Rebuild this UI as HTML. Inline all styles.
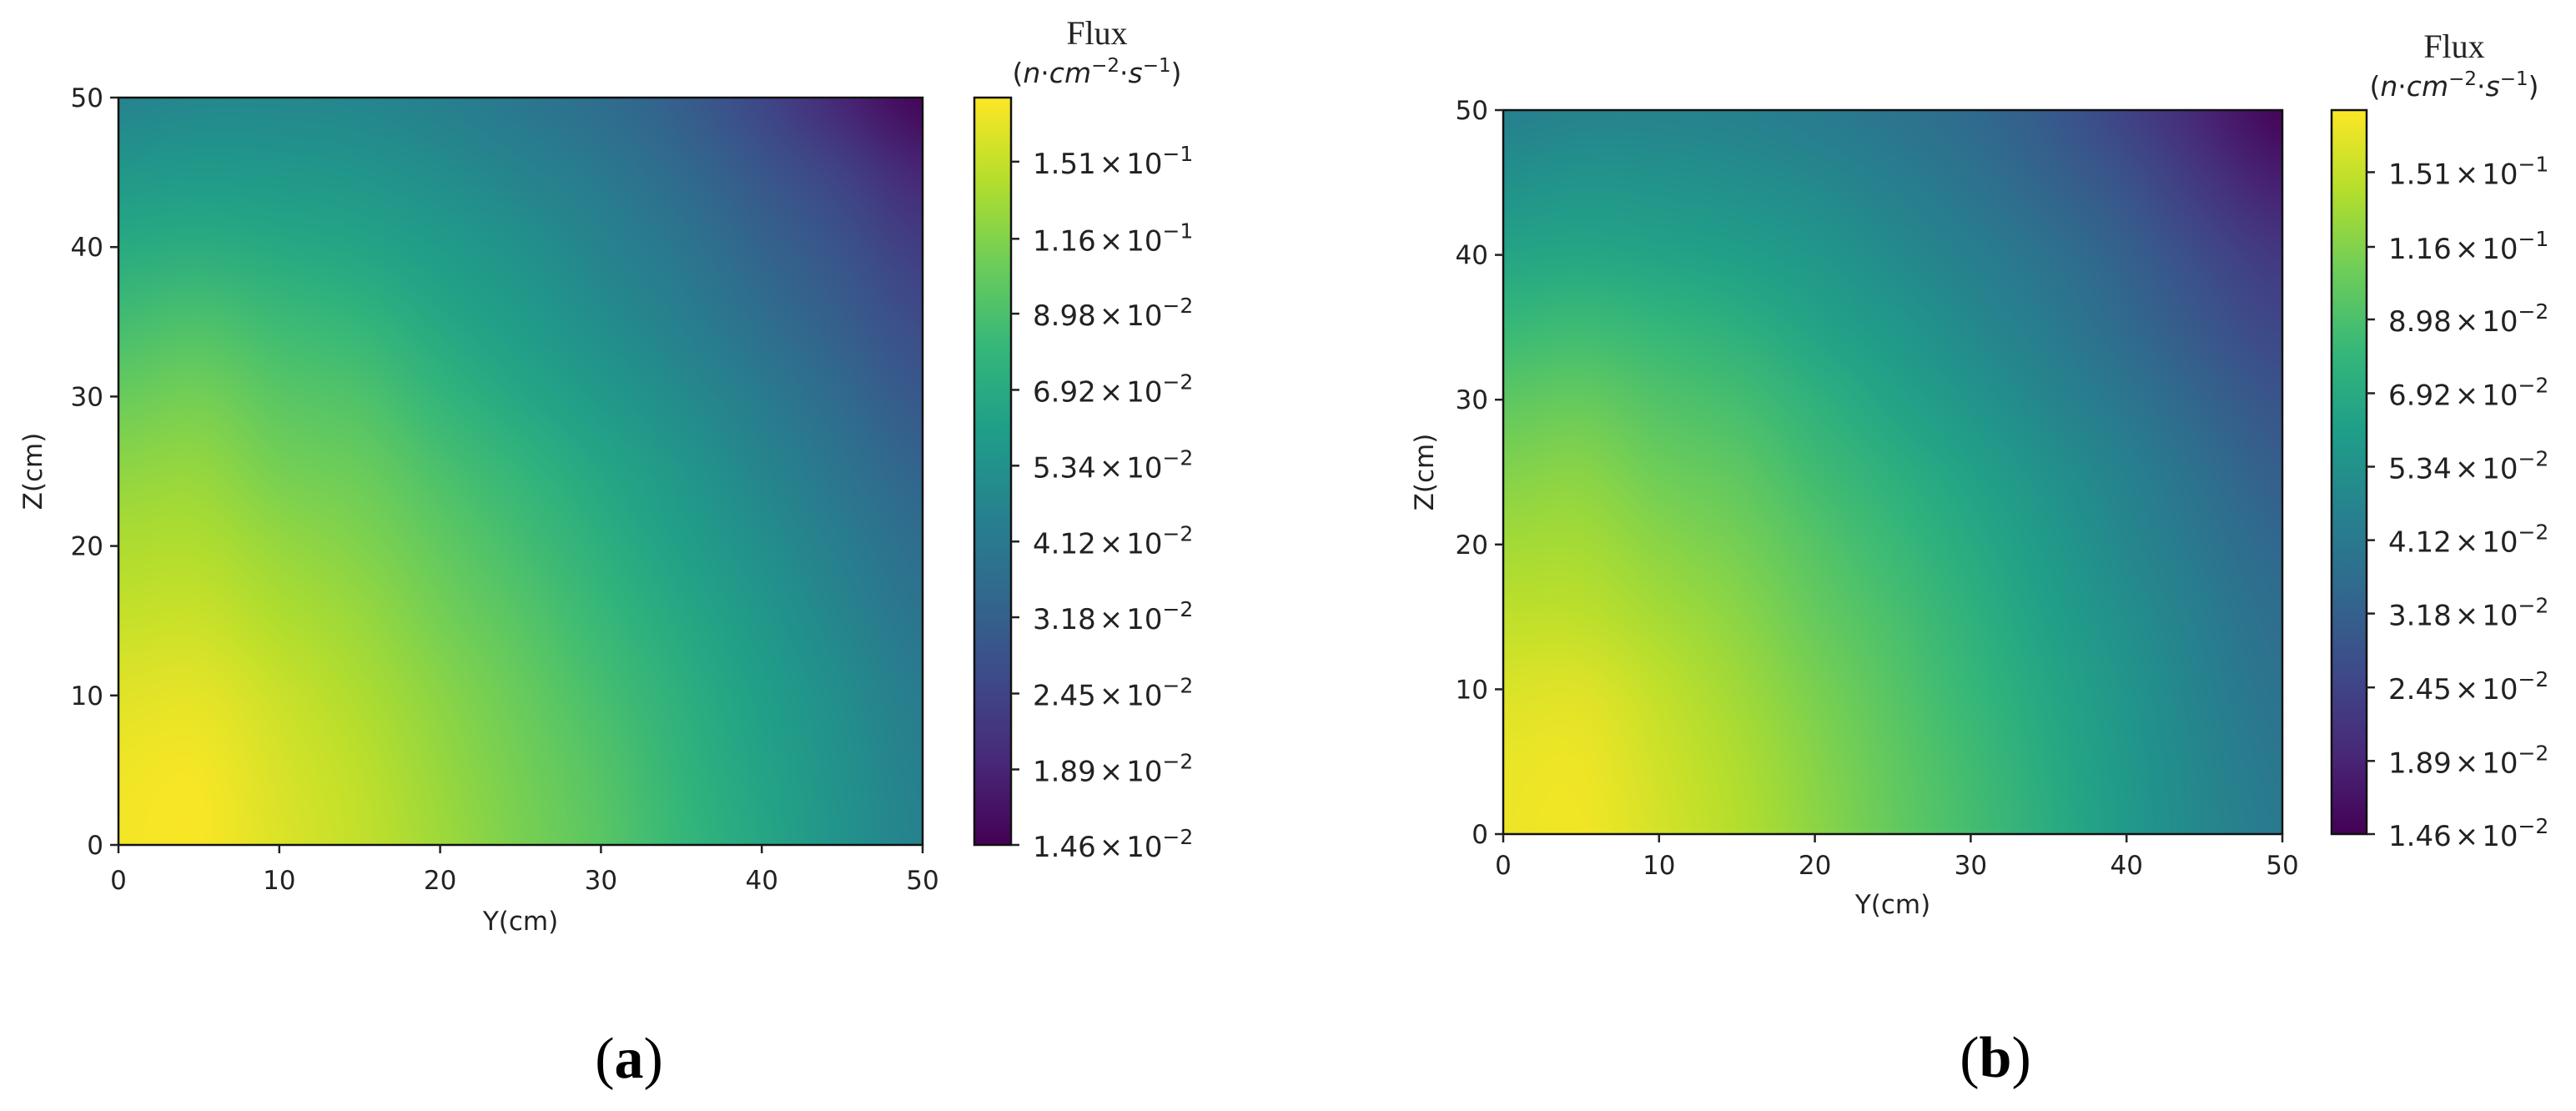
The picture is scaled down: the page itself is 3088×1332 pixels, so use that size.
<!DOCTYPE html>
<html><head><meta charset="utf-8">
<style>
html,body{margin:0;padding:0;background:#fff;}
#root{position:relative;width:3088px;height:1332px;overflow:hidden;background:#fff;}
canvas{position:absolute;}
svg{position:absolute;left:0;top:0;}
</style></head>
<body>
<div id="root">
<canvas id="heatA"></canvas>
<canvas id="heatB"></canvas>
<svg id="svg" width="3088" height="1332"></svg>
</div>
<script>
// axis categories (cm)
const yCoords = [0,5,10,15,20,25,30,35,40,45,50];
const zCoords = [0,5,10,15,20,25,30,35,40,45,50];
const axisTicks = [0,10,20,30,40,50];
// colorbar tick values and labels
const cbTickMant = ["1.51","1.16","8.98","6.92","5.34","4.12","3.18","2.45","1.89","1.46"];
const cbTickExp = ["−1","−1","−2","−2","−2","−2","−2","−2","−2","−2"];
const cbTickValues = [0.151,0.116,0.0898,0.0692,0.0534,0.0412,0.0318,0.0245,0.0189,0.0146];
const fluxMin = 0.0146;
const fluxMax = 0.188;
// panel (a) flux rows, Z = 0 .. 50 (bottom to top), columns Y = 0 .. 50
const fluxA = [
 [0.180,0.185,0.165,0.150,0.130,0.112,0.097,0.080,0.066,0.054,0.045],
 [0.178,0.183,0.162,0.147,0.126,0.109,0.094,0.077,0.064,0.053,0.044],
 [0.168,0.172,0.154,0.138,0.120,0.104,0.088,0.073,0.061,0.051,0.042],
 [0.152,0.155,0.140,0.128,0.110,0.096,0.081,0.068,0.057,0.047,0.039],
 [0.138,0.140,0.126,0.116,0.101,0.087,0.073,0.062,0.052,0.043,0.036],
 [0.122,0.126,0.110,0.105,0.090,0.078,0.066,0.056,0.047,0.039,0.033],
 [0.104,0.110,0.097,0.092,0.078,0.067,0.058,0.050,0.042,0.035,0.029],
 [0.086,0.091,0.083,0.078,0.067,0.059,0.051,0.044,0.037,0.031,0.026],
 [0.069,0.071,0.068,0.065,0.059,0.053,0.046,0.040,0.033,0.028,0.023],
 [0.056,0.058,0.057,0.055,0.051,0.046,0.041,0.035,0.029,0.024,0.019],
 [0.046,0.048,0.048,0.047,0.044,0.040,0.036,0.031,0.025,0.019,0.0148]
];
// panel (b) flux rows, Z = 0 .. 50, columns Y = 0 .. 50
const fluxB = [
 [0.176,0.180,0.160,0.142,0.121,0.102,0.087,0.071,0.058,0.048,0.041],
 [0.174,0.178,0.157,0.139,0.118,0.100,0.085,0.069,0.057,0.047,0.040],
 [0.164,0.168,0.149,0.131,0.112,0.095,0.080,0.066,0.055,0.045,0.038],
 [0.148,0.148,0.134,0.121,0.103,0.089,0.075,0.062,0.052,0.043,0.036],
 [0.132,0.134,0.120,0.110,0.095,0.082,0.069,0.058,0.048,0.040,0.034],
 [0.116,0.120,0.106,0.099,0.085,0.073,0.063,0.053,0.045,0.037,0.031],
 [0.098,0.103,0.093,0.087,0.075,0.064,0.055,0.047,0.040,0.033,0.028],
 [0.081,0.084,0.079,0.073,0.064,0.057,0.049,0.042,0.035,0.029,0.025],
 [0.065,0.066,0.064,0.061,0.056,0.050,0.044,0.038,0.032,0.026,0.022],
 [0.053,0.055,0.054,0.052,0.049,0.044,0.039,0.033,0.028,0.022,0.018],
 [0.044,0.046,0.046,0.045,0.042,0.039,0.035,0.030,0.024,0.019,0.0148]
];

const VIR = [[68,1,84],[72,40,120],[62,74,137],[49,104,142],[38,130,142],[31,158,137],[53,183,121],[109,205,89],[180,222,44],[253,231,37]];
function viridis(t){
  t=Math.max(0,Math.min(1,t));
  const p=t*(VIR.length-1), i=Math.min(VIR.length-2,Math.floor(p)), f=p-i;
  return VIR[i].map((c,k)=>Math.round(c+(VIR[i+1][k]-c)*f));
}
function normLog(v){return Math.log(v/fluxMin)/Math.log(fluxMax/fluxMin);}

const NS="http://www.w3.org/2000/svg";
const svg=document.getElementById('svg');
function el(tag,attrs,parent,text){
  const e=document.createElementNS(NS,tag);
  for(const k in attrs) e.setAttribute(k,attrs[k]);
  if(text!==undefined) e.textContent=text;
  (parent||svg).appendChild(e);
  return e;
}

function panel(cfg,data,canvasId,tag){
  const {L,R,T,B,cbL,cbR,cbT}=cfg;
  const g=el('g',{});
  
  
  const xS=v=>L+(v-yCoords[0])/(yCoords[yCoords.length-1]-yCoords[0])*(R-L);
  const yS=v=>B-(v-zCoords[0])/(zCoords[zCoords.length-1]-zCoords[0])*(B-T);
  const nx=yCoords.length, nz=zCoords.length;
  const small=document.createElement('canvas'); small.width=nx; small.height=nz;
  const sc=small.getContext('2d'); const img=sc.createImageData(nx,nz);
  for(let j=0;j<nz;j++)for(let i=0;i<nx;i++){
    const c=viridis(normLog(data[j][i])); const row=nz-1-j; const o=(row*nx+i)*4;
    img.data[o]=c[0];img.data[o+1]=c[1];img.data[o+2]=c[2];img.data[o+3]=255;
  }
  sc.putImageData(img,0,0);
  const cv=document.getElementById(canvasId);
  const x0=xS(yCoords[0]), x1=xS(yCoords[nx-1]), y0=yS(zCoords[nz-1]), y1=yS(zCoords[0]);
  cv.width=Math.round(x1-x0); cv.height=Math.round(y1-y0);
  cv.style.left=x0+'px'; cv.style.top=y0+'px';
  const ctx=cv.getContext('2d'); ctx.imageSmoothingEnabled=true; ctx.imageSmoothingQuality='high';
  const cw=cv.width/(nx-1), ch=cv.height/(nz-1);
  ctx.drawImage(small,0,0,nx,nz,-cw/2,-ch/2,cv.width+cw,cv.height+ch);
  const fr=el('rect',{x:L,y:T,width:R-L,height:B-T,fill:'none',stroke:'#111','stroke-width':2.5},g);
  
  
  axisTicks.forEach(v=>{
    const x=xS(v);
    el('line',{x1:x,x2:x,y1:B,y2:B+10,stroke:'#222','stroke-width':2.5},g);
    const t=el('text',{x:x,y:B+cfg.xtlOff,'font-size':31,'text-anchor':'middle','font-family':'DejaVu Sans, Liberation Sans, sans-serif',fill:'#222'},g,String(v));
    
    
    const y=yS(v);
    el('line',{x1:L-10,x2:L,y1:y,y2:y,stroke:'#222','stroke-width':2.5},g);
    const t2=el('text',{x:L-18,y:y+11,'font-size':31,'text-anchor':'end','font-family':'DejaVu Sans, Liberation Sans, sans-serif',fill:'#222'},g,String(v));
    
    
  });
  const xt=el('text',{x:(L+R)/2,y:cfg.xlabY,'font-size':31,'text-anchor':'middle','font-family':'DejaVu Sans, Liberation Sans, sans-serif',fill:'#222'},g,'Y(cm)');
  
  
  const yt=el('text',{x:0,y:0,'font-size':31,'text-anchor':'middle','font-family':'DejaVu Sans, Liberation Sans, sans-serif',fill:'#222',transform:`translate(${cfg.ylabX},${(T+B)/2}) rotate(-90)`},g,'Z(cm)');
  
  
  const gid='grad'+tag;
  const defs=el('defs',{},g); const lg=el('linearGradient',{id:gid,x1:0,y1:1,x2:0,y2:0},defs);
  for(let k=0;k<VIR.length;k++) el('stop',{offset:k/(VIR.length-1),'stop-color':`rgb(${VIR[k].join(',')})`},lg);
  const cbB=B;
  const cb=el('rect',{x:cbL,y:cbT,width:cbR-cbL,height:cbB-cbT,fill:`url(#${gid})`,stroke:'#111','stroke-width':2.5},g);
  
  
  const cS=v=>cbB-normLog(v)*(cbB-cbT);
  cbTickValues.forEach((v,k)=>{
    const y=cS(v);
    el('line',{x1:cbR,x2:cbR+10,y1:y,y2:y,stroke:'#222','stroke-width':2.5},g);
    const t=el('text',{x:cbR+26,y:y+14,'font-size':34,'font-family':'DejaVu Sans, Liberation Sans, sans-serif',fill:'#222'},g);
    
    
    el('tspan',{},t,cbTickMant[k]);
    el('tspan',{dx:4},t,'×');
    el('tspan',{dx:4},t,'10');
    el('tspan',{dy:-15,'font-size':25},t,cbTickExp[k]);
  });
  const ft=el('text',{x:cfg.titleX,y:cfg.titleY,'font-size':40,'text-anchor':'middle','font-family':'Liberation Serif, serif',fill:'#222'},g,'Flux');
  
  
  const ut=el('text',{x:cfg.titleX,y:cfg.titleY+46,'font-size':33,'text-anchor':'middle','font-family':'DejaVu Sans, sans-serif',fill:'#222'},g);
  
  
  el('tspan',{},ut,'(');
  el('tspan',{'font-style':'italic'},ut,'n');
  el('tspan',{},ut,'·');
  el('tspan',{'font-style':'italic'},ut,'cm');
  el('tspan',{dy:-13,'font-size':23},ut,'−2');
  el('tspan',{dy:13},ut,'·');
  el('tspan',{'font-style':'italic'},ut,'s');
  el('tspan',{dy:-13,'font-size':23},ut,'−1');
  el('tspan',{dy:13},ut,')');
  const cap=el('text',{x:cfg.capX,y:cfg.capY,'font-size':70,'text-anchor':'middle','font-family':'Liberation Serif, serif',fill:'#000'},g);
  
  
  el('tspan',{},cap,'(');
  el('tspan',{'font-weight':'bold'},cap,tag);
  el('tspan',{},cap,')');
}

panel({L:142,R:1106,T:117,B:1013,cbL:1168,cbR:1212,cbT:117,xtlOff:53,xlabY:1115,ylabX:50,titleX:1315,titleY:53,capX:754,capY:1292},fluxA,'heatA','a');
panel({L:1802,R:2736,T:132,B:1000,cbL:2795,cbR:2837,cbT:132,xtlOff:48,xlabY:1095,ylabX:1718,titleX:2942,titleY:69,capX:2392,capY:1291},fluxB,'heatB','b');
</script>
</body></html>
